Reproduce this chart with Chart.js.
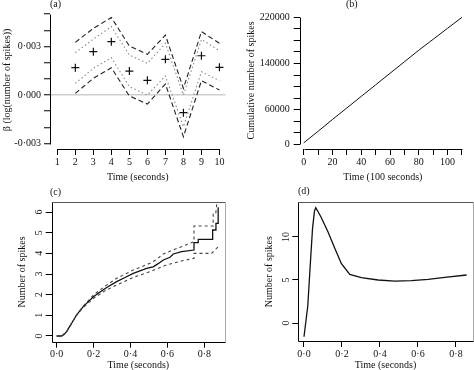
<!DOCTYPE html>
<html>
<head>
<meta charset="utf-8">
<script src="https://cdn.jsdelivr.net/npm/chart.js@4.4.1/dist/chart.umd.min.js"></script>
<style>
  html, body { margin: 0; padding: 0; background: #fff; }
  #wrap { position: relative; width: 474px; height: 370px; overflow: hidden;
          font-family: 'Liberation Serif', serif; font-size: 10px; color: #111; }
  #wrap canvas { position: absolute; }
  .tag { position: absolute; line-height: 10px; }
</style>
</head>
<body>
<div id="wrap">
  <canvas id="chartA" width="237" height="185" style="left:0;top:0"></canvas>
  <canvas id="chartB" width="237" height="185" style="left:237px;top:0"></canvas>
  <canvas id="chartC" width="237" height="185" style="left:0;top:185px"></canvas>
  <canvas id="chartD" width="237" height="185" style="left:237px;top:185px"></canvas>
  <div class="tag" style="left:50px;top:-1px">(a)</div>
  <div class="tag" style="left:346px;top:-1px">(b)</div>
  <div class="tag" style="left:50px;top:187px">(c)</div>
  <div class="tag" style="left:298px;top:186px">(d)</div>
</div>
<script>
// (a) coeficientes por segundo
const secondsA = [2, 3, 4, 5, 6, 7, 8, 9, 10];
const betaA   = [0.00169, 0.00268, 0.00330, 0.00148, 0.00091, 0.00221, -0.00109, 0.00243, 0.00171];
const dashHiA = [0.00326, 0.00412, 0.00480, 0.00303, 0.00252, 0.00371, 0.00041, 0.00392, 0.00320];
const dashLoA = [0.00010, 0.00103, 0.00169, -0.00006, -0.00056, 0.00068, -0.00258, 0.00089, 0.00031];
const dotHiA  = [0.00262, 0.00346, 0.00423, 0.00247, 0.00196, 0.00320, 0.00000, 0.00344, 0.00274];
const dotLoA  = [0.00072, 0.00165, 0.00231, 0.00052, 0.00000, 0.00118, -0.00196, 0.00144, 0.00089];
const yLabelsA = [-0.003, 0, 0.003];

// (b) acumulado
const timeB   = [0, 10, 20, 30, 40, 50, 60, 70, 80, 90, 100, 110];
const spikesB = [2500, 22500, 43000, 63000, 83000, 103000, 123000, 143000, 163000, 182000, 201000, 220000];
const yTicksB  = [0, 20000, 40000, 60000, 80000, 100000, 120000, 140000, 160000, 180000, 200000, 220000];
const yLabelsB = [0, 60000, 140000, 220000];
const xLabelsB = [0, 20, 40, 60, 80, 100];

// (c) escalones con bandas
const timeC  = [0, 0.027, 0.04, 0.054, 0.07, 0.09, 0.108, 0.144, 0.17, 0.199, 0.235, 0.271, 0.325, 0.37, 0.415, 0.487, 0.523, 0.55, 0.578, 0.614, 0.632, 0.677, 0.744, 0.744, 0.767, 0.767, 0.845, 0.845, 0.863, 0.863, 0.875, 0.875];
const countC = [0, 0, 0.07, 0.21, 0.45, 0.75, 1.02, 1.42, 1.65, 1.90, 2.13, 2.35, 2.63, 2.83, 3.03, 3.27, 3.35, 3.50, 3.68, 3.81, 3.97, 4.08, 4.16, 4.52, 4.52, 4.68, 4.68, 5.13, 5.13, 5.45, 5.45, 6.23];
const timeHiC  = [0, 0.027, 0.054, 0.108, 0.144, 0.199, 0.26, 0.325, 0.415, 0.505, 0.54, 0.578, 0.65, 0.744, 0.744, 0.848, 0.848, 0.862, 0.87];
const countHiC = [0, 0, 0.21, 1.02, 1.45, 1.98, 2.40, 2.79, 3.19, 3.52, 3.70, 3.97, 4.23, 4.56, 5.32, 5.32, 5.94, 5.94, 6.60];
const timeLoC  = [0, 0.027, 0.054, 0.108, 0.144, 0.199, 0.26, 0.325, 0.415, 0.505, 0.596, 0.686, 0.744, 0.744, 0.839, 0.884];
const countLoC = [0, 0, 0.21, 1.00, 1.38, 1.82, 2.18, 2.47, 2.84, 3.11, 3.44, 3.65, 3.76, 4.00, 4.00, 4.40];

// (d) curva
const timeD  = [0, 0.02, 0.035, 0.045, 0.055, 0.062, 0.07, 0.09, 0.126, 0.162, 0.197, 0.241, 0.302, 0.39, 0.478, 0.565, 0.653, 0.741, 0.856];
const countD = [-1.6, 2.0, 7.5, 11.0, 13.0, 13.4, 13.1, 12.3, 10.6, 8.7, 6.9, 5.66, 5.27, 5.0, 4.88, 4.92, 5.08, 5.31, 5.58];
const yLabelsD = [0, 5, 10];

Chart.defaults.font.family = "'Liberation Serif', serif";
Chart.defaults.font.size = 10;
Chart.defaults.color = '#111';

const dot = (v, d) => v.toFixed(d).replace('.', '\u00b7');
const inList = (list, v) => list.some(t => Math.abs(t - v) < 1e-9);
const pts = (xs, ys) => xs.map((x, i) => ({ x: x, y: ys[i] }));

// ejes estilo R: linea solo entre el primer y el ultimo tick, o caja completa
const rAxes = {
    id: 'rAxes',
    afterDraw(chart, args, opts) {
        const { ctx, chartArea: a, scales: { x, y } } = chart;
        const al = p => Math.round(p) + 0.5;
        ctx.save();
        ctx.lineWidth = 1;
        if (opts.box) {
            ctx.strokeStyle = '#555';
            ctx.beginPath(); ctx.moveTo(al(a.left), al(a.top)); ctx.lineTo(al(a.right), al(a.top)); ctx.stroke();
            ctx.strokeStyle = '#aaa';
            ctx.beginPath(); ctx.moveTo(al(a.right), al(a.top)); ctx.lineTo(al(a.right), al(a.bottom)); ctx.stroke();
            ctx.strokeStyle = '#000';
            ctx.beginPath();
            ctx.moveTo(al(a.left), al(a.top)); ctx.lineTo(al(a.left), al(a.bottom)); ctx.lineTo(al(a.right), al(a.bottom));
            ctx.stroke();
        } else {
            const xt = x.ticks, yt = y.ticks;
            ctx.strokeStyle = '#000';
            ctx.beginPath();
            ctx.moveTo(al(x.getPixelForValue(xt[0].value)), al(a.bottom));
            ctx.lineTo(al(x.getPixelForValue(xt[xt.length - 1].value)), al(a.bottom));
            ctx.moveTo(al(a.left), al(y.getPixelForValue(yt[0].value)));
            ctx.lineTo(al(a.left), al(y.getPixelForValue(yt[yt.length - 1].value)));
            ctx.stroke();
        }
        ctx.restore();
    }
};

function axis(o) {
    const horiz = o.horiz;
    const sc = {
        type: 'linear',
        min: o.min, max: o.max,
        afterFit: s => { if (horiz) s.height = o.size; else s.width = o.size; },
        border: { display: false },
        grid: Object.assign({ drawOnChartArea: false, tickLength: 6, tickColor: '#000', tickWidth: 1 }, o.grid || {}),
        ticks: Object.assign({
            stepSize: o.step, autoSkip: false, includeBounds: false,
            padding: o.pad, maxRotation: 0, color: '#111', callback: o.fmt
        }, o.ticks || {}),
        title: {
            display: true, text: o.title, color: '#111',
            font: { size: 10, lineHeight: 1 },
            padding: horiz ? { top: 0, bottom: o.tpad } : { top: o.tpad, bottom: 0 }
        }
    };
    // lista de ticks fija cuando se da
    if (o.tickList) sc.afterBuildTicks = s => { s.ticks = o.tickList.map(v => ({ value: v })); };
    return sc;
}

function base(pad, box, scales) {
    return {
        responsive: false,
        animation: false,
        devicePixelRatio: 1,
        layout: { padding: pad },
        plugins: { legend: { display: false }, tooltip: { enabled: false }, rAxes: { box: box } },
        scales: scales
    };
}

const lineDs = (data, color, width, dash) => ({
    data: data, showLine: true, pointRadius: 0, borderColor: color,
    borderWidth: width, borderDash: dash, tension: 0, fill: false
});

document.addEventListener("DOMContentLoaded", function () {
    // (a)
    new Chart(document.getElementById("chartA"), {
        type: "scatter",
        data: {
            datasets: [
                lineDs(pts(secondsA, dotHiA), '#8a8a8a', 1.1, [1.5, 2.5]),
                lineDs(pts(secondsA, dotLoA), '#8a8a8a', 1.1, [1.5, 2.5]),
                lineDs(pts(secondsA, dashHiA), '#222', 1.1, [5, 3]),
                lineDs(pts(secondsA, dashLoA), '#222', 1.1, [5, 3]),
                { data: pts(secondsA, betaA), pointStyle: 'cross', pointRadius: 4,
                  borderColor: '#111', borderWidth: 1.2, showLine: false }
            ]
        },
        options: base({ top: 10.8, right: 11.6, left: 0, bottom: 0 }, false, {
            x: axis({ horiz: true, min: 0.594, max: 10.33, size: 36, step: 1, pad: 1,
                      title: 'Time (seconds)', tpad: 3, fmt: v => String(v) }),
            y: axis({ horiz: false, min: -0.00334, max: 0.00521, size: 50, step: 0.001, pad: 3,
                      title: '\u03b2 (log(number of spikes))', tpad: 2.5,
                      fmt: v => inList(yLabelsA, v) ? dot(v, 3) : '',
                      grid: { drawOnChartArea: true, lineWidth: 1.5,
                              color: c => (c.tick && Math.abs(c.tick.value) < 1e-9) ? '#cfcfcf' : 'rgba(0,0,0,0)' } })
        }),
        plugins: [rAxes]
    });

    // (b)
    new Chart(document.getElementById("chartB"), {
        type: "scatter",
        data: { datasets: [lineDs(pts(timeB, spikesB), '#111', 1, [])] },
        options: base({ top: 12, right: 8, left: 0, bottom: 0 }, false, {
            x: axis({ horiz: true, min: -2.78, max: 112.8, size: 36, step: 10, pad: 1,
                      title: 'Time (100 seconds)', tpad: 3,
                      fmt: v => inList(xLabelsB, v) ? String(v) : '' }),
            y: axis({ horiz: false, min: -8142, max: 229190, size: 62.7, step: 20000, pad: 4,
                      tickList: yTicksB,
                      title: 'Cumulative number of spikes', tpad: 9,
                      fmt: v => inList(yLabelsB, v) ? String(v) : '' })
        }),
        plugins: [rAxes]
    });

    // (c)
    new Chart(document.getElementById("chartC"), {
        type: "scatter",
        data: {
            datasets: [
                lineDs(pts(timeHiC, countHiC), '#444', 1.1, [3, 3]),
                lineDs(pts(timeLoC, countLoC), '#444', 1.1, [3, 3]),
                lineDs(pts(timeC, countC), '#111', 1.3, [])
            ]
        },
        options: base({ top: 17.3, right: 12, left: 0, bottom: 0 }, true, {
            x: axis({ horiz: true, min: -0.027, max: 0.912, size: 28.3, step: 0.2, pad: 1,
                      title: 'Time (seconds)', tpad: 0, fmt: v => dot(v, 1) }),
            y: axis({ horiz: false, min: -0.276, max: 6.47, size: 51.7, step: 1, pad: 4.2,
                      title: 'Number of spikes', tpad: 17.3, fmt: v => String(v),
                      ticks: { minRotation: 90, maxRotation: 90, crossAlign: 'center' } })
        }),
        plugins: [rAxes]
    });

    // (d)
    new Chart(document.getElementById("chartD"), {
        type: "scatter",
        data: { datasets: [lineDs(pts(timeD, countD), '#111', 1.3, [])] },
        options: base({ top: 17.3, right: 1.3, left: 0, bottom: 0 }, true, {
            x: axis({ horiz: true, min: -0.030, max: 0.888, size: 29, step: 0.2, pad: 1,
                      title: 'Time (seconds)', tpad: 0, fmt: v => dot(v, 1) }),
            y: axis({ horiz: false, min: -2.09, max: 14.03, size: 61.3, step: 5, pad: 1.3,
                      title: 'Number of spikes', tpad: 27.3,
                      fmt: v => inList(yLabelsD, v) ? String(v) : '',
                      ticks: { minRotation: 90, maxRotation: 90, crossAlign: 'center' } })
        }),
        plugins: [rAxes]
    });
});
</script>
</body>
</html>
